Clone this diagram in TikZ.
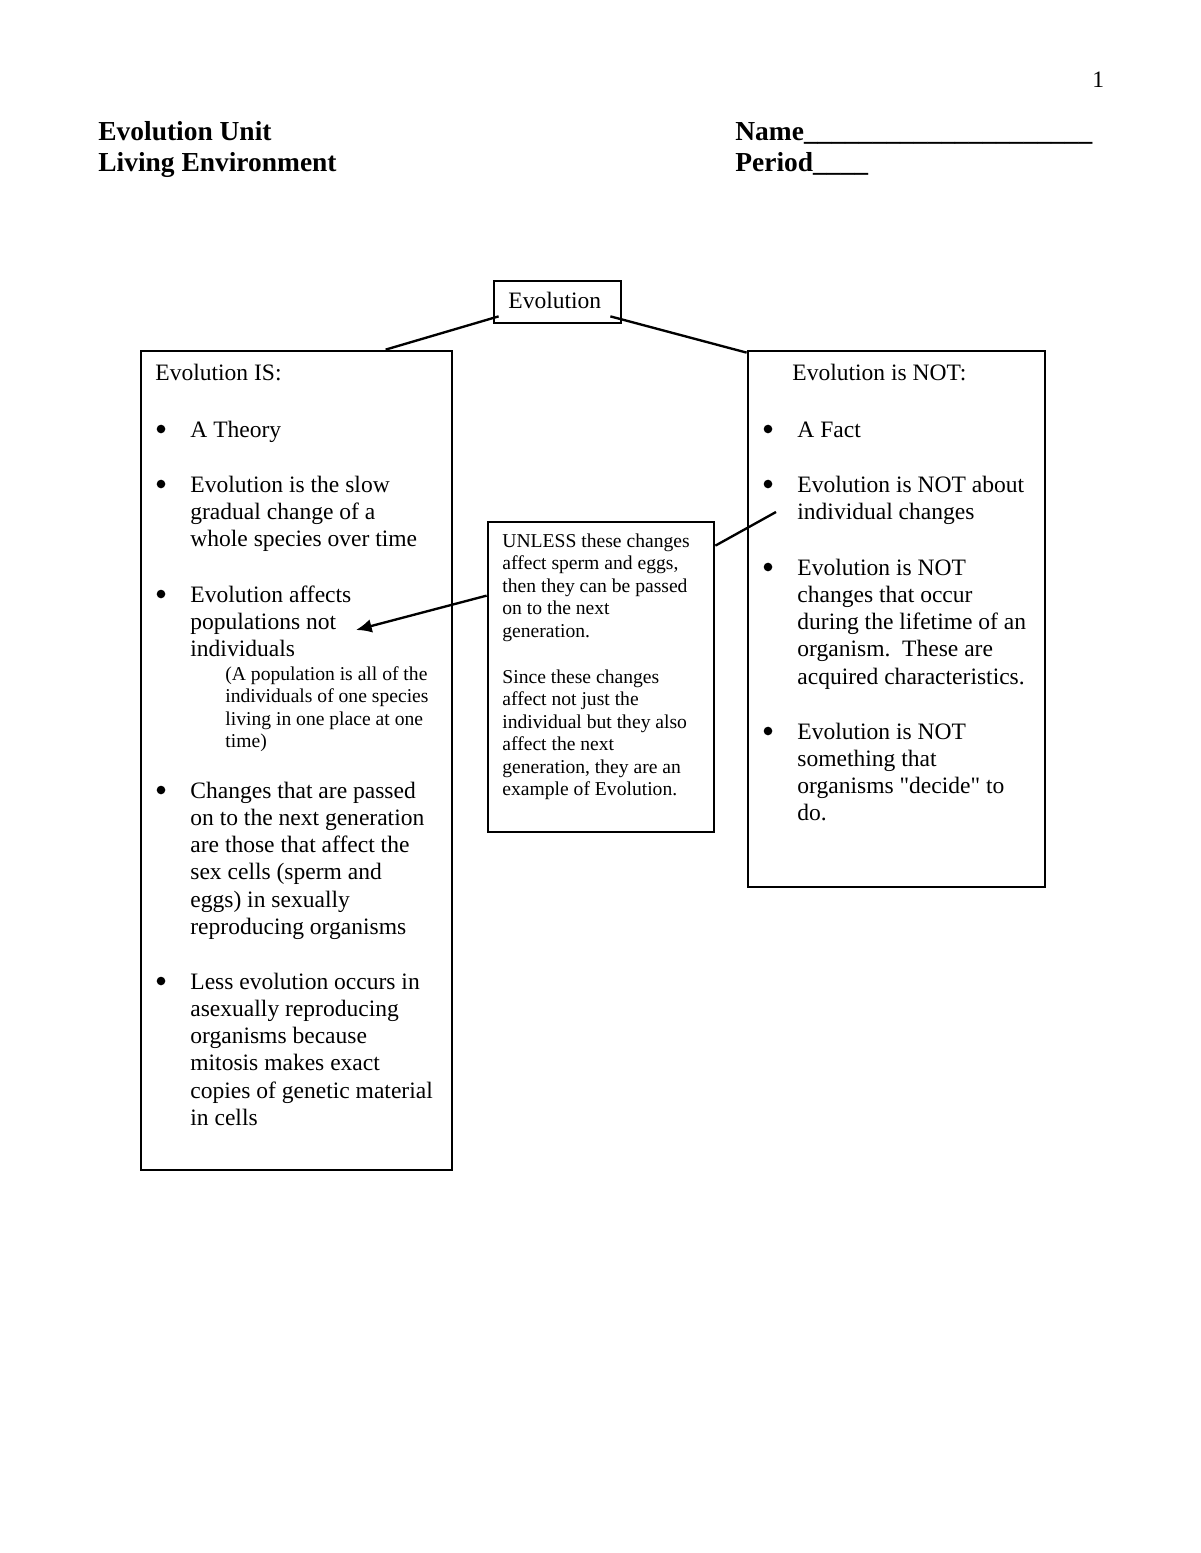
\documentclass[tikz,border=0pt]{standalone}
\usepackage{fontspec}
\setmainfont{Liberation Serif}
\newfontfamily\rawserif{Liberation Serif}
\usetikzlibrary{fit,arrows.meta,calc}
\begin{document}
\begin{tikzpicture}[x=0.51pt,y=-0.51pt,
  frame/.style={draw, line width=1.4pt, inner sep=0pt},
  txt/.style={anchor=base west, inner sep=0pt, font=\fontsize{12}{13.92}\selectfont},
  sml/.style={anchor=base west, inner sep=0pt, font=\fontsize{10}{11.5}\selectfont},
  hdr/.style={anchor=base west, inner sep=0pt, font=\fontsize{14}{16}\selectfont\bfseries},
  link/.style={line width=1.2pt},
  dot/.style={circle, fill, inner sep=0pt, minimum size=4.4pt}]
\useasboundingbox (0,0) rectangle (1200,1553);

% header
\node[txt] (pg) at (1092,88) {1};
\node[hdr] (unit) at (98,141) {Evolution Unit};
\node[hdr] (living) at (98,172) {Living Environment};
\node[hdr] (name) at (735,141) {Name\_\_\_\_\_\_\_\_\_\_\_\_\_\_\_\_\_\_\_\_\_};
\node[hdr] (period) at (735,172) {Period\_\_\_\_};

% boxes
\node[frame, fit={(494,281) (621,323)}] (evo) {};
\node[txt] (evot) at (508,308) {Evolution};
\node[frame, fit={(141,351) (452,1170)}] (isbox) {};
\node[frame, fit={(748,351) (1045,887)}] (notbox) {};
\node[frame, fit={(488,522) (714,832)}] (mid) {};

% connectors
\draw[link] ($(evo.south west)+(6,-8)$) -- ($(isbox.north west)+(246,0)$);
\draw[link] ($(evo.south east)+(-12,-8)$) -- ($(notbox.north west)+(0,3)$);
\coordinate (nc) at (776,512);
\draw[link] ($(mid.north east)+(0,25)$) -- (nc);
\coordinate (arrtip) at (356,630);
\draw[link,-{Latex[length=8pt,width=7pt]}] ($(mid.north west)+(0,75)$) -- (arrtip);

% left box
\node[txt] (ist) at (155,380) {Evolution IS:};
\node[dot] (lb1) at (161,429) {};
\node[txt] (li1) at (190,437) {A Theory};
\node[dot] (lb2) at (161,484) {};
\node[txt] (li2) at (190,492) {\parbox[t]{300pt}{Evolution is the slow\\gradual change of a\\whole species over time}};
\node[dot] (lb3) at (161,594) {};
\node[txt] (li3) at (190,602) {\parbox[t]{300pt}{Evolution affects\\populations not\\individuals}};
\node[sml] (li3s) at (225,680) {\parbox[t]{300pt}{(A population is all of the\\individuals of one species\\living in one place at one\\time)}};
\node[dot] (lb4) at (161,790) {};
\node[txt] (li4) at (190,798) {\parbox[t]{300pt}{Changes that are passed\\on to the next generation\\are those that affect the\\sex cells (sperm and\\eggs) in sexually\\reproducing organisms}};
\node[dot] (lb5) at (161,981) {};
\node[txt] (li5) at (190,989) {\parbox[t]{300pt}{Less evolution occurs in\\asexually reproducing\\organisms because\\mitosis makes exact\\copies of genetic material\\in cells}};

% right box
\node[txt] (nott) at (792,380) {Evolution is NOT:};
\node[dot] (rb1) at (768,429) {};
\node[txt] (ri1) at (797,437) {A Fact};
\node[dot] (rb2) at (768,484) {};
\node[txt] (ri2) at (797,492) {\parbox[t]{300pt}{Evolution is NOT about\\individual changes}};
\node[dot] (rb3) at (768,567) {};
\node[txt] (ri3) at (797,575) {\parbox[t]{300pt}{Evolution is NOT\\changes that occur\\during the lifetime of an\\organism.\ \ These are\\acquired characteristics.}};
\node[dot] (rb4) at (768,731) {};
\node[txt] (ri4) at (797,739) {\parbox[t]{300pt}{Evolution is NOT\\something that\\organisms {\rawserif"decide"} to\\do.}};

% middle box
\node[sml] (m1) at (502,547) {\parbox[t]{200pt}{UNLESS these changes\\affect sperm and eggs,\\then they can be passed\\on to the next\\generation.}};
\node[sml] (m2) at (502,683) {\parbox[t]{200pt}{Since these changes\\affect not just the\\individual but they also\\affect the next\\generation, they are an\\example of Evolution.}};
\end{tikzpicture}
\end{document}
